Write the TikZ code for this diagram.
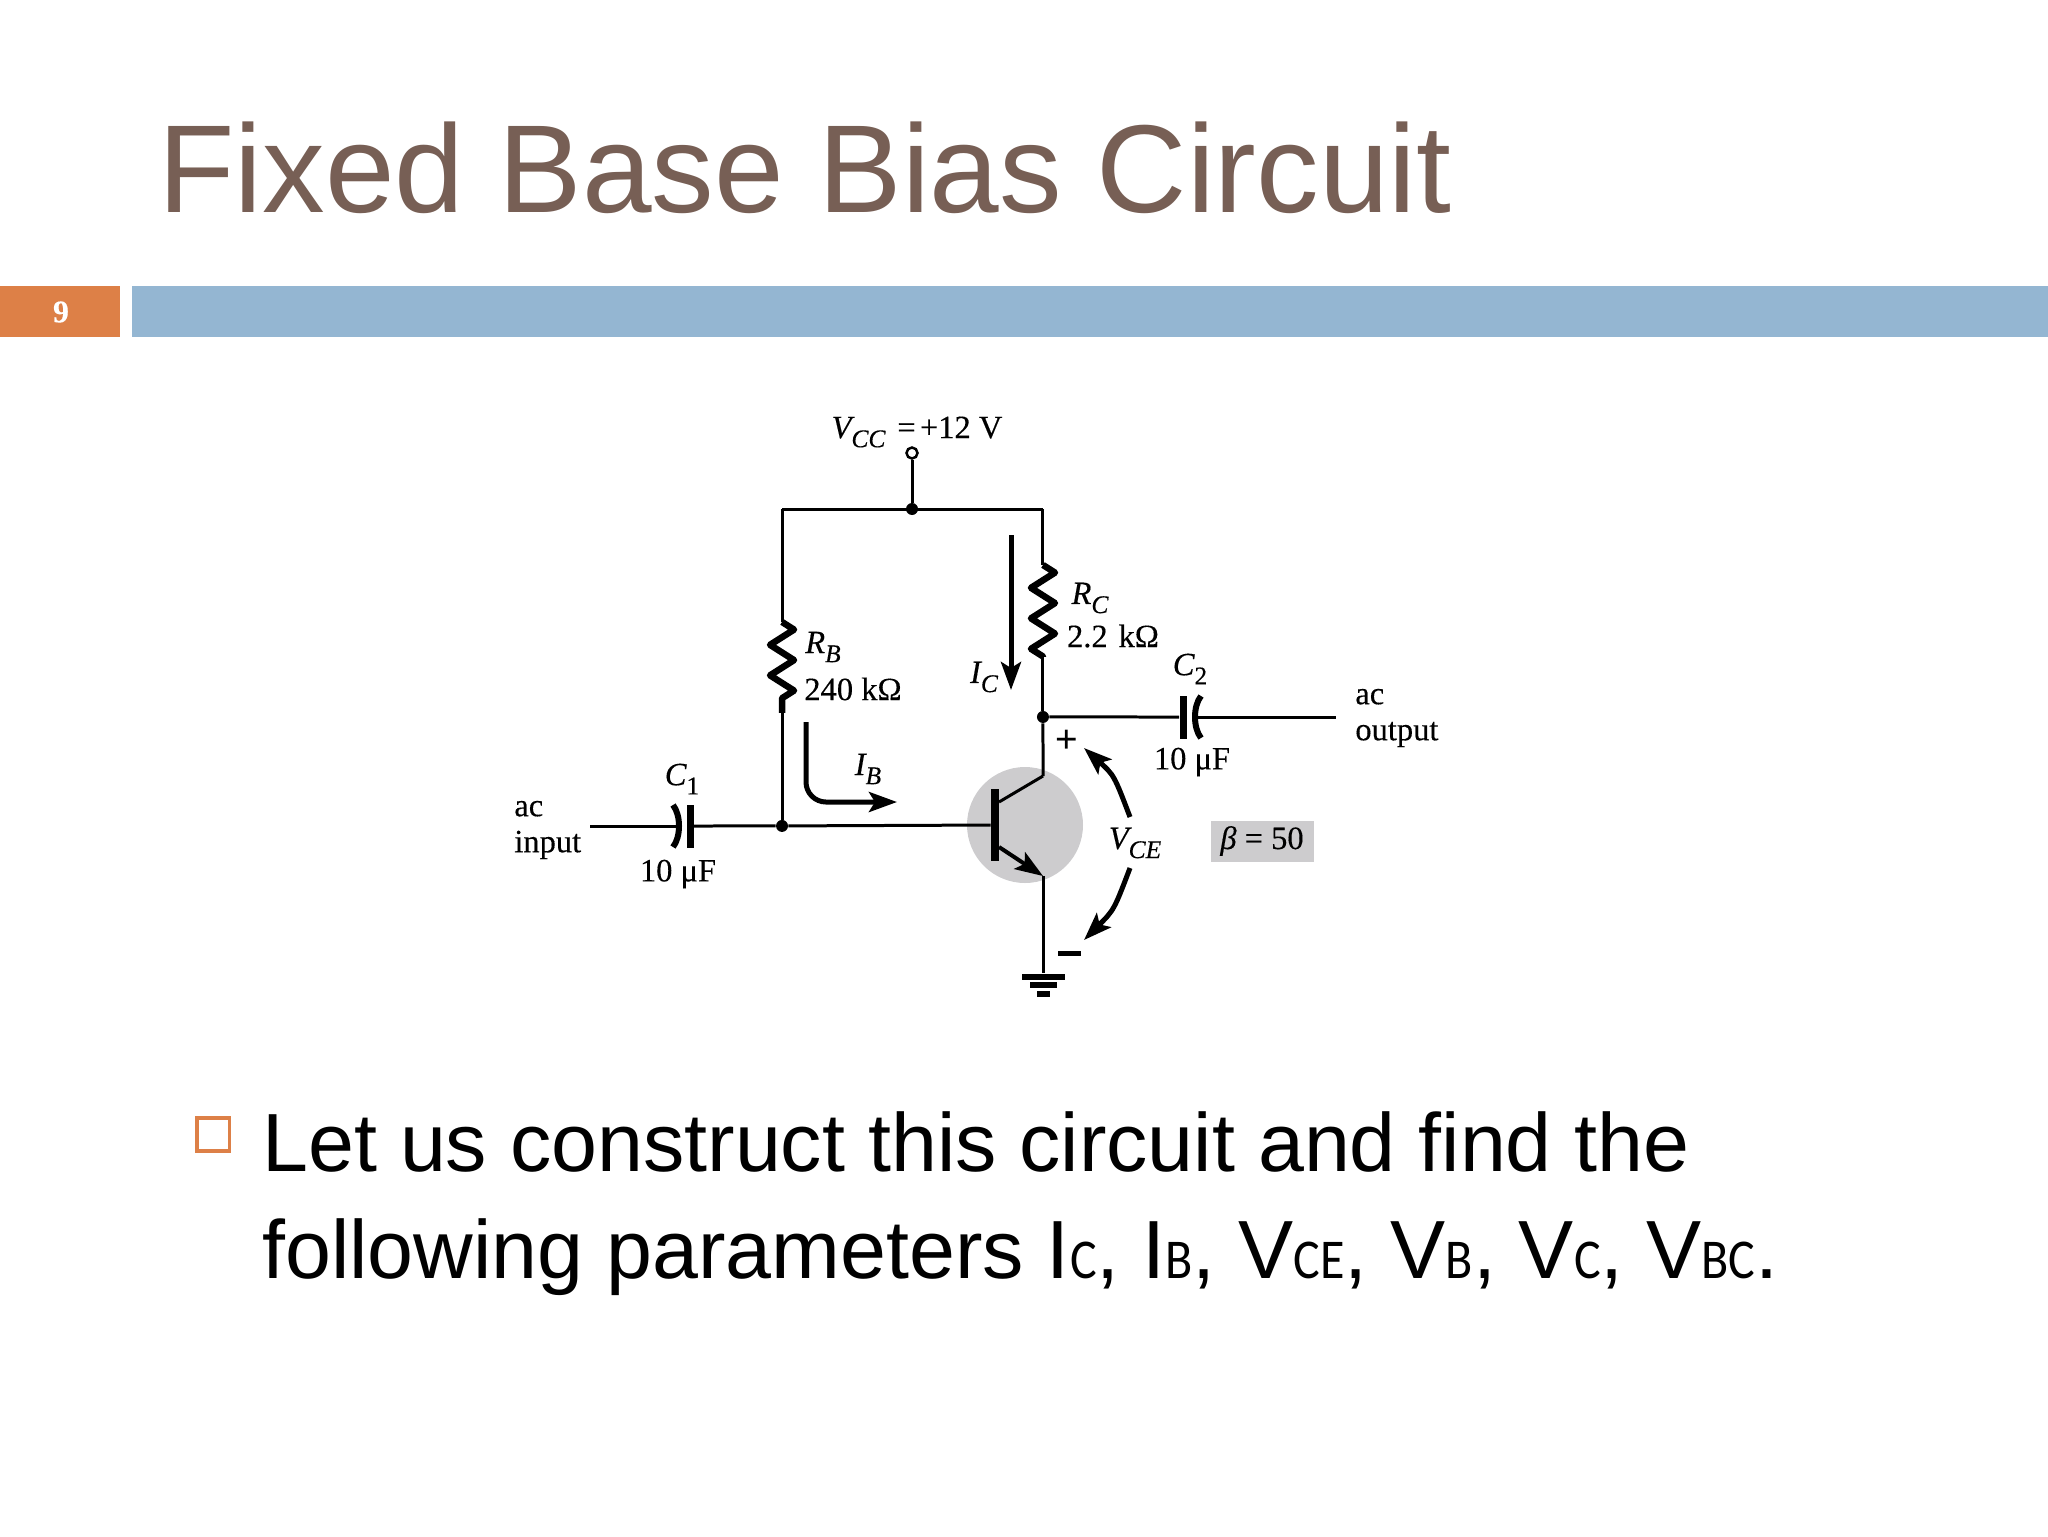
\documentclass[tikz,border=0pt]{standalone}
\usepackage{fontspec}
\setmainfont{Liberation Sans}
\newfontfamily\serifcircuit[FakeBold=0.3]{Liberation Serif}
\newfontfamily\subletters[FakeStretch=0.89]{Carlito}
\usetikzlibrary{positioning, arrows.meta, decorations.pathmorphing}
\newcommand{\subtxt}[2]{{\itshape #1}\raisebox{-.28em}{\fontsize{14.5}{15}\selectfont\itshape #2}}
\newcommand{\bodysub}[2]{#1{\subletters\fontsize{32}{32}\selectfont #2}}
\definecolor{titlebrown}{HTML}{775F55}
\definecolor{barorange}{HTML}{DD8047}
\definecolor{barblue}{HTML}{94B6D2}
\definecolor{halogray}{HTML}{CDCCCE}
\tikzset{
>={Stealth[length=.56cm, width=.4cm, inset=.12cm]}, % bold arrow heads
wire/.style={line width=.06cm}, % thin circuit lines
dot/.style={circle, fill=black, inner sep=0, minimum size=.24cm}, % junctions
terminal/.style={circle, draw, line width=.05cm, fill=white, inner sep=0, minimum size=.22cm}, % supply terminal
resistor/.style={line width=.13cm, line join=round, decorate, decoration={zigzag, segment length=.61cm, amplitude=.24cm}},
plate/.style={fill=black, inner sep=0, minimum width=.14cm, minimum height=.86cm}, % straight capacitor plate
bentplate/.style={line width=.12cm}, % curved capacitor plate
groundbar/.style={fill=black, inner sep=0, minimum height=.12cm},
current/.style={->, line width=.1cm}, % current and voltage arrows
tag/.style={inner sep=0, font=\serifcircuit\fontsize{18.5}{20}\selectfont},
bar/.style={inner sep=0, minimum height=1.02cm},
}

\begin{document}
\begin{tikzpicture}[x=.02cm, y=-.02cm]
    \useasboundingbox (0,0) rectangle (2048,1536);
    % slide header
    \node[anchor=base west, inner sep=0, text=titlebrown, font=\fontsize{71.2}{71}\selectfont] (title) at (158,212) {Fixed Base Bias Circuit};
    \node[bar, fill=barorange, minimum width=2.4cm, anchor=north west] (numbox) at (0,286) {};
    \node[bar, fill=barblue, minimum width=38.32cm, anchor=north west] (band) at (132,286) {};
    \node[text=white, inner sep=0, font=\serifcircuit\bfseries\fontsize{18}{18}\selectfont] (num) at (61,312) {9};

    % rails
    \node[terminal] (vcc) at (912,453) {};
    \node[dot, below of=vcc, node distance=1.12cm] (topj) {};
    \coordinate[left of=topj, node distance=2.6cm] (topl);
    \coordinate[right of=topj, node distance=2.62cm] (topr);
    \coordinate[below of=topl, node distance=2.26cm] (rbt);
    \coordinate[below of=rbt, node distance=1.82cm] (rbb);
    \node[dot, below of=rbb, node distance=2.26cm] (basej) {};
    \coordinate[below of=topr, node distance=1.12cm] (rct);
    \coordinate[below of=rct, node distance=1.84cm] (rcb);
    \node[dot, below of=rcb, node distance=1.2cm] (colj) {};

    % transistor
    \node[circle, fill=halogray, inner sep=0, minimum size=2.32cm] (halo) at (1025,825) {};
    \node[fill=black, inner sep=0, minimum width=.16cm, minimum height=1.44cm] (bjt) at (995,825) {};
    \coordinate (cin) at (999,802);
    \coordinate (cout) at (1043,776);
    \coordinate (ein) at (999,847);
    \coordinate (eout) at (1043,876);
    \coordinate[below of=eout, node distance=1.94cm] (gnd);

    % capacitors
    \node[plate] (c1p) at (690,826) {};
    \coordinate (c1in) at (590,826);
    \coordinate (c1m) at (678,826);
    \coordinate (c1a) at (673,805);
    \coordinate (c1b) at (673,847);
    \coordinate (c1c) at (681,815);
    \coordinate (c1d) at (681,837);
    \node[plate] (c2p) at (1183,717) {};
    \coordinate (c2m) at (1195,717);
    \coordinate (c2a) at (1201,696);
    \coordinate (c2b) at (1201,738);
    \coordinate (c2c) at (1193,706);
    \coordinate (c2d) at (1193,728);
    \coordinate (out) at (1336,717);

    \draw[wire]
    (vcc) edge (topj)
    (topl) edge (topr)
    (topl) edge (rbt)
    (rbb) edge (basej)
    (topr) edge (rct)
    (rcb) edge (colj)
    (colj) edge (cout)
    (cout) edge (cin)
    (eout) edge (gnd)
    (c1in) edge (c1m)
    (c1p) edge (basej)
    (basej) edge (bjt)
    (colj) edge (c2p)
    (c2m) edge (out);
    \draw[resistor] (rbt) -- (rbb);
    \draw[resistor] (rct) -- (rcb);
    \draw[bentplate] (c1a) .. controls (c1c) and (c1d) .. (c1b);
    \draw[bentplate] (c2a) .. controls (c2c) and (c2d) .. (c2b);
    \draw[->, line width=.08cm] (ein) -- (eout);

    % ground
    \node[groundbar, minimum width=.86cm] (g1) at (1043,977) {};
    \node[groundbar, minimum width=.54cm, below of=g1, node distance=.16cm] (g2) {};
    \node[groundbar, minimum width=.26cm, below of=g2, node distance=.18cm] (g3) {};

    % currents and voltage
    \coordinate (ict) at (1011,535);
    \coordinate (icb) at (1011,690);
    \draw[current] (ict) -- (icb);
    \coordinate (ibt) at (806,722);
    \coordinate (ibm) at (806,802);
    \coordinate (ibr) at (897,802);
    \draw[current, rounded corners=.4cm] (ibt) -- (ibm) -- (ibr);
    \coordinate (vup) at (1130,817);
    \coordinate (vupc) at (1114,775);
    \coordinate (vplus) at (1084,748);
    \coordinate (vdn) at (1130,868);
    \coordinate (vdnc) at (1114,910);
    \coordinate (vminus) at (1084,940);
    \draw[current] (vup) .. controls (vupc) .. (vplus);
    \draw[current] (vdn) .. controls (vdnc) .. (vminus);

    % labels
    \node[tag] (vcclabel) at (917,432) {\subtxt{V}{CC}\kern6.8pt=\kern2.4pt+12 V};
    \node[tag] (rblabel) at (823,647) {\subtxt{R}{B}};
    \node[tag] (rbval) at (853,689) {240 kΩ};
    \node[tag] (rclabel) at (1090,598) {\subtxt{R}{C}};
    \node[tag] (rcval) at (1113,636) {2.2\,\,kΩ};
    \node[tag] (iclabel) at (984,677) {\subtxt{I}{C}};
    \node[tag] (iblabel) at (868,769) {\subtxt{I}{B}};
    \node[tag] (c1label) at (682,779) {\subtxt{C}{\upshape 1}};
    \node[tag] (c1val) at (678,874) {10 μF};
    \node[tag] (c2label) at (1190,669) {\subtxt{C}{\upshape 2}};
    \node[tag] (c2val) at (1192,762) {10 μF};
    \node[tag, align=left, anchor=west] (inlabel) at (514,830) {ac\\[.5pt]input};
    \node[tag, align=left, anchor=west] (outlabel) at (1355,718) {ac\\[.5pt]output};
    \node[tag] (vcelabel) at (1135,843) {\subtxt{V}{CE}};
    \node[tag, font=\fontsize{22}{22}\selectfont] (plus) at (1067,741) {+};
    \node[fill=black, inner sep=0, minimum width=.46cm, minimum height=.1cm] (minus) at (1069,953) {};
    \node[tag, fill=halogray, minimum width=2.06cm, minimum height=.82cm] (beta) at (1262,841) {{\itshape β} = 50};

    % bullet text
    \node[draw=barorange, line width=.08cm, inner sep=0, minimum size=.66cm] (bullet) at (213,1134) {};
    \node[anchor=base west, align=left, inner sep=0, font=\fontsize{47}{60.5}\selectfont] (body) at (262,1278) {Let us construct this circuit and find the\\following parameters \bodysub{I}{C}, \bodysub{I}{B}, \bodysub{V}{CE}, \bodysub{V}{B}, \bodysub{V}{C}, \bodysub{V}{BC}.};
\end{tikzpicture}
\end{document}
